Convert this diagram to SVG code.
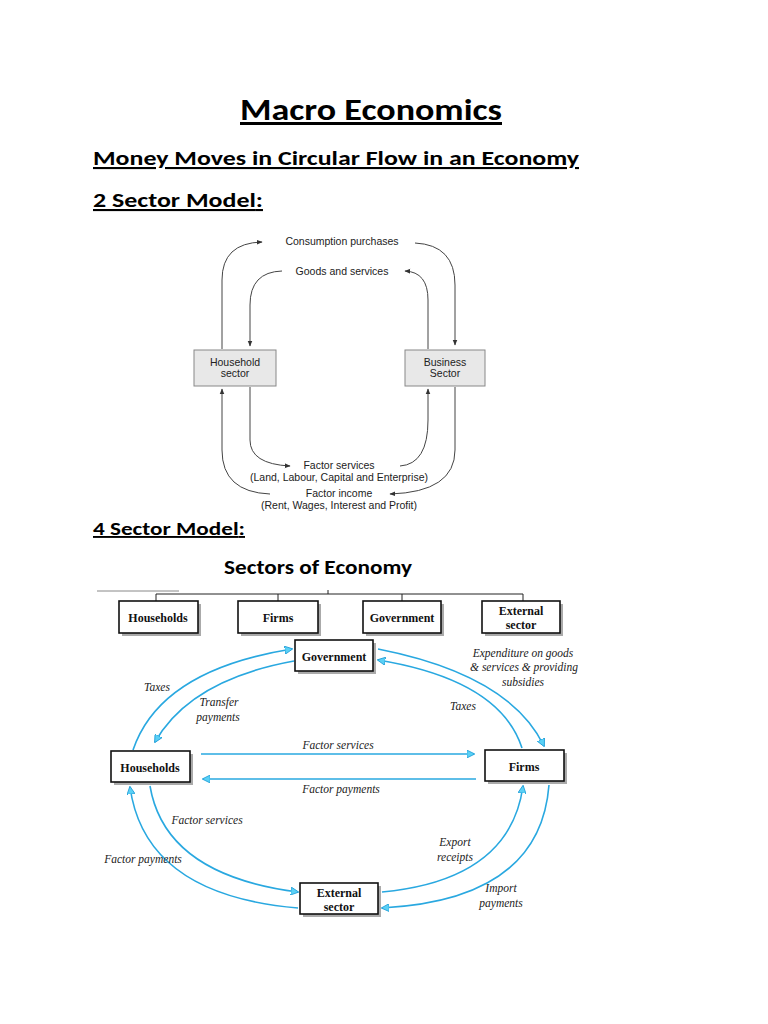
<svg xmlns="http://www.w3.org/2000/svg" width="768" height="1024" viewBox="0 0 768 1024">
<defs>
<marker id="a" viewBox="0 0 10 10" refX="9" refY="5" markerWidth="6" markerHeight="6" orient="auto"><path d="M0,1 L10,5 L0,9 z" fill="#333"/></marker>
<marker id="b" viewBox="0 0 10 10" refX="9" refY="5" markerWidth="5" markerHeight="5" orient="auto"><path d="M0,0 L10,5 L0,10 z" fill="#5ad0f5" stroke="#1a9ad6" stroke-width="1"/></marker>
</defs>
<style>
.h{font-family:Carlito,"Open Sans","Liberation Sans",sans-serif;font-weight:bold;fill:#000;text-decoration:underline}
.s{font-family:"Liberation Sans",Arial,sans-serif;font-size:10.5px;fill:#222;text-anchor:middle}
.g{fill:#e8e8e8;stroke:#888;stroke-width:1}
.k{fill:none;stroke:#444;stroke-width:1}
.bx{fill:#fff;stroke:#111;stroke-width:1.6}
.sh{fill:#aaa}
.t{font-family:"Liberation Serif",serif;font-weight:bold;font-size:12px;text-anchor:middle;fill:#111}
.i{font-family:"Liberation Serif",serif;font-style:italic;font-size:11.5px;fill:#222;text-anchor:middle}
.c{fill:none;stroke:#29a8e0;stroke-width:1.6}
</style>
<rect width="768" height="1024" fill="#fff"/>
<text class="h" x="371" y="120" font-size="30" text-anchor="middle" textLength="262" lengthAdjust="spacingAndGlyphs">Macro Economics</text>
<text class="h" x="93" y="165" font-size="21" textLength="486" lengthAdjust="spacingAndGlyphs">Money Moves in Circular Flow in an Economy</text>
<text class="h" x="93" y="207" font-size="21" textLength="170" lengthAdjust="spacingAndGlyphs">2 Sector Model<tspan style="text-decoration:none">:</tspan></text>
<text class="h" x="93" y="535" font-size="19" textLength="152" lengthAdjust="spacingAndGlyphs">4 Sector Model<tspan style="text-decoration:none">:</tspan></text>
<text x="224" y="574" font-family="Carlito,'Open Sans','Liberation Sans',sans-serif" font-weight="bold" font-size="20" textLength="188" lengthAdjust="spacingAndGlyphs">Sectors of Economy</text>

<g id="two-sector-connectors">
<path class="k" d="M222,349 V280 Q222,243 262,242" marker-end="url(#a)"/>
<path class="k" d="M415,243 Q455,245 455,285 V345" marker-end="url(#a)"/>
<path class="k" d="M428,349 V300 Q428,272 405,271" marker-end="url(#a)"/>
<path class="k" d="M282,271 Q250,272 250,305 V346" marker-end="url(#a)"/>
<path class="k" d="M250,387 V440 Q250,464 290,466" marker-end="url(#a)"/>
<path class="k" d="M400,466 Q428,464 428,420 V389" marker-end="url(#a)"/>
<path class="k" d="M455,387 V450 Q455,492 390,494" marker-end="url(#a)"/>
<path class="k" d="M270,494 Q222,492 222,450 V389" marker-end="url(#a)"/>
</g>
<g id="two-sector-labels">
<text class="s" x="342" y="245">Consumption purchases</text>
<text class="s" x="342" y="275">Goods and services</text>
<text class="s" x="339" y="469">Factor services</text>
<text class="s" x="339" y="481">(Land, Labour, Capital and Enterprise)</text>
<text class="s" x="339" y="497">Factor income</text>
<text class="s" x="339" y="509">(Rent, Wages, Interest and Profit)</text>
</g>
<g id="household-sector"><rect class="g" x="194" y="350" width="82" height="36"/><text class="s" x="235" y="366">Household</text><text class="s" x="235" y="377">sector</text></g>
<g id="business-sector"><rect class="g" x="405" y="350" width="80" height="36"/><text class="s" x="445" y="366">Business</text><text class="s" x="445" y="377">Sector</text></g>

<g id="tree-lines" fill="none" stroke="#222" stroke-width="1">
<line x1="97" y1="591" x2="179" y2="591" stroke="#888"/>
<path d="M156,601 V594 H523 V601 M278,594 V601 M402,594 V601 M328,594 V590"/>
</g>
<g id="top-households"><rect class="sh" x="122" y="604" width="79" height="32"/><rect class="bx" x="119" y="601" width="79" height="32"/><text class="t" x="158" y="622">Households</text></g>
<g id="top-firms"><rect class="sh" x="241" y="604" width="80" height="32"/><rect class="bx" x="238" y="601" width="80" height="32"/><text class="t" x="278" y="622">Firms</text></g>
<g id="top-government"><rect class="sh" x="366" y="604" width="78" height="32"/><rect class="bx" x="363" y="601" width="78" height="32"/><text class="t" x="402" y="622">Government</text></g>
<g id="top-external"><rect class="sh" x="485" y="604" width="78" height="32"/><rect class="bx" x="482" y="601" width="78" height="32"/><text class="t" x="521" y="615">External</text><text class="t" x="521" y="629">sector</text></g>

<g id="flow-connectors">
<path class="c" d="M133,750 Q160,670 292,649" marker-end="url(#b)"/>
<path class="c" d="M294,661 Q190,680 155,742" marker-end="url(#b)"/>
<path class="c" d="M378,649 Q510,675 544,746" marker-end="url(#b)"/>
<path class="c" d="M522,748 Q500,680 378,660" marker-end="url(#b)"/>
<path class="c" d="M201,754 H474" marker-end="url(#b)"/>
<path class="c" d="M476,779 H203" marker-end="url(#b)"/>
<path class="c" d="M150,786 Q165,875 298,892" marker-end="url(#b)"/>
<path class="c" d="M298,908 Q145,895 130,787" marker-end="url(#b)"/>
<path class="c" d="M382,892 Q510,880 523,786" marker-end="url(#b)"/>
<path class="c" d="M549,785 Q540,900 382,908" marker-end="url(#b)"/>
</g>
<g id="flow-labels">
<text class="i" x="157" y="691">Taxes</text>
<text class="i" x="219" y="706">Transfer</text>
<text class="i" x="218" y="721">payments</text>
<text class="i" x="523" y="657">Expenditure on goods</text>
<text class="i" x="524" y="671">&amp; services &amp; providing</text>
<text class="i" x="523" y="686">subsidies</text>
<text class="i" x="463" y="710">Taxes</text>
<text class="i" x="338" y="749">Factor services</text>
<text class="i" x="341" y="793">Factor payments</text>
<text class="i" x="207" y="824">Factor services</text>
<text class="i" x="143" y="863">Factor payments</text>
<text class="i" x="455" y="846">Export</text>
<text class="i" x="455" y="861">receipts</text>
<text class="i" x="501" y="892">Import</text>
<text class="i" x="501" y="907">payments</text>
</g>
<g id="government"><rect class="sh" x="298" y="643" width="78" height="31"/><rect class="bx" x="295" y="640" width="78" height="31"/><text class="t" x="334" y="661">Government</text></g>
<g id="households"><rect class="sh" x="114" y="754" width="79" height="31"/><rect class="bx" x="111" y="751" width="79" height="31"/><text class="t" x="150" y="772">Households</text></g>
<g id="firms"><rect class="sh" x="488" y="753" width="79" height="31"/><rect class="bx" x="485" y="750" width="79" height="31"/><text class="t" x="524" y="771">Firms</text></g>
<g id="external-sector"><rect class="sh" x="303" y="886" width="78" height="31"/><rect class="bx" x="300" y="883" width="78" height="31"/><text class="t" x="339" y="897">External</text><text class="t" x="339" y="911">sector</text></g>
</svg>
